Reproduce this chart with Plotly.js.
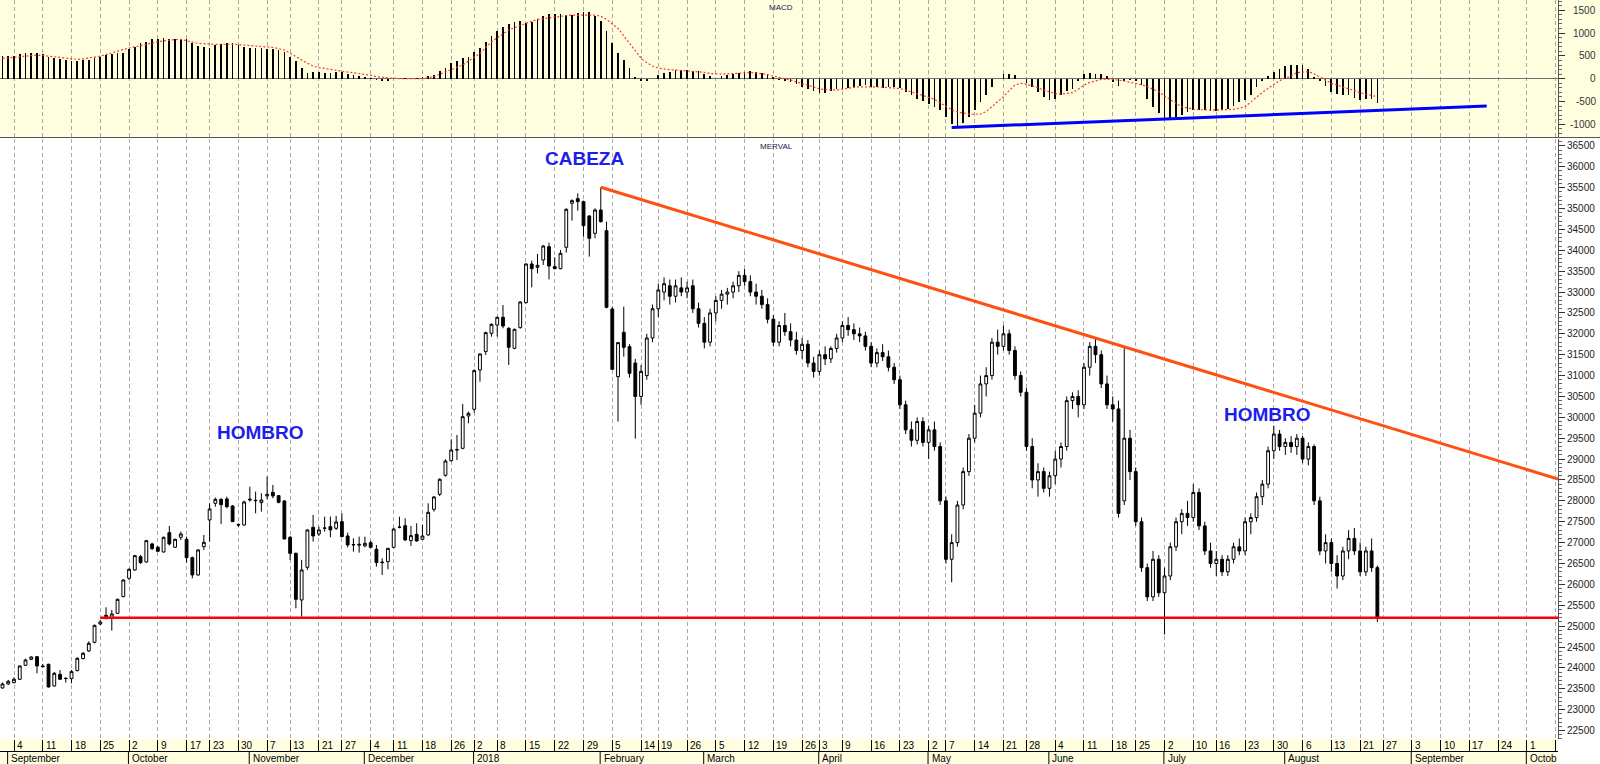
<!DOCTYPE html>
<html><head><meta charset="utf-8">
<script src="https://cdn.plot.ly/plotly-3.0.1.min.js"></script>
<style>html,body{margin:0;padding:0;background:#fff}#chart{width:1600px;height:764px}</style>
</head><body><div id="chart"></div>
<script>
// ---------- DATA ----------
const firstDay = '2017-08-31';
const lastAxisDay = '2018-10-08';
const holidays = ['2017-10-16','2017-11-06','2017-11-20','2017-12-08','2017-12-25','2018-01-01',
  '2018-02-12','2018-02-13','2018-03-29','2018-03-30','2018-04-02','2018-04-30','2018-05-01',
  '2018-05-25','2018-06-20','2018-07-09','2018-08-20'];

const openP = [23519,23615,23647,23727,24062,24205,24269,24046,24086,23567,
23846,23750,23743,23934,24221,24405,24612,25051,25227,25211,
25307,25706,26145,26345,26664,26537,26967,26888,26776,27239,
26888,27127,27079,26640,26225,26904,27542,27941,28037,28045,
27877,27430,27422,28021,28013,27957,28117,28205,28125,27997,
27127,26744,25626,26409,27367,27207,27343,27383,27343,27502,
27159,26944,26960,26920,26999,26840,26520,26544,26887,27366,
27406,27047,27199,27079,27183,27797,28156,28611,28962,29218,
29258,30033,30192,31134,31573,32012,32211,32395,32132,31653,
32148,32746,33672,33592,33768,34087,33608,33560,34071,35125,
35237,35165,34821,34406,34965,34470,32594,30974,32036,31693,
31300,30500,31000,31900,32600,33000,33150,32900,33100,33000,
33150,32600,32250,31800,32500,32800,32950,33000,33150,33400,
33250,33000,32900,32700,32350,31800,32200,32050,31850,31600,
31750,31300,31100,31500,31400,31650,31900,32200,32100,32000,
31950,31700,31300,31550,31450,31200,30900,30300,29700,29450,
29900,29400,29700,29300,28000,26600,27000,27900,28700,29500,
30100,30800,31000,31800,31700,32000,31600,31000,30600,29300,
28500,28700,28300,28600,29000,29300,30400,30500,30300,31200,
31700,31500,30800,30300,30200,28000,29500,28700,27500,26400,
25700,26600,25800,26200,26900,27500,27700,27600,28200,27400,
26800,26500,26600,26300,26600,26900,26800,27500,27600,28100,
28400,29200,29600,29300,29400,29300,29500,29000,29300,28000,
26800,27000,26500,26200,26800,27100,26800,26300,26800,26400];

const highP = [23647,23711,23775,24062,24221,24277,24280,24094,24100,23902,
23950,23775,23950,24253,24381,24636,25035,25147,25451,25387,
25658,26121,26384,26704,26704,27063,26999,26920,27143,27398,
27095,27263,27143,26664,26840,27183,27941,28077,28061,28101,
27901,27462,28005,28340,28221,28181,28580,28380,28141,28021,
27159,26760,26584,27319,27662,27383,27622,27622,27638,27702,
27239,27103,27143,27143,27047,26943,26624,26870,27358,27621,
27582,27398,27462,27422,27941,28116,28540,28994,29473,29577,
30320,30136,31150,31533,32052,32251,32411,32690,32156,32124,
32778,33688,33752,33912,34127,34183,33832,34007,35005,35221,
35364,35189,34845,35005,35508,34686,32650,31800,32650,31750,
31400,31250,32000,32700,33200,33350,33300,33300,33350,33250,
33300,32750,32400,32600,32900,33050,33100,33250,33500,33550,
33400,33200,33050,32850,32450,32300,32500,32250,32050,31900,
31850,31450,31600,31700,31700,32000,32300,32400,32250,32150,
32050,31800,31650,31750,31600,31300,31000,30400,29900,30000,
30000,29800,29900,29400,28100,27200,28000,28800,29600,30300,
31000,31200,31900,32100,32200,32100,31700,31100,30700,29500,
28900,28800,28700,29200,29400,30500,30600,30650,31300,31800,
31900,31600,31000,30500,30400,31700,29700,28800,27600,26500,
26800,26700,26400,27000,27600,27800,28000,28400,28300,27500,
27000,26800,26700,26700,27000,27100,27600,27700,28200,28500,
29300,29800,29700,29500,29550,29600,29550,29400,29350,28100,
27200,27100,26700,26900,27300,27350,27000,26900,27100,26450];

const lowP = [23503,23591,23631,23711,24046,24189,23870,24014,23530,23551,
23711,23647,23631,23918,24205,24381,24589,25027,25163,24892,
25291,25690,26105,26329,26489,26521,26824,26776,26760,26935,
26872,27063,26521,26145,26209,26824,27023,27861,27446,27821,
27494,27382,27406,27981,27702,27742,28037,28061,27941,27079,
26584,25427,25228,26345,27023,27159,27263,27127,27303,27127,
26888,26784,26760,26888,26864,26424,26225,26360,26863,27342,
27047,26919,27023,27063,27167,27741,28116,28579,28939,28978,
29234,29857,30112,30854,31493,31932,31932,32131,31253,31629,
32124,32730,33113,33448,33648,33305,33544,33544,33943,34710,
34949,34327,33848,34287,34662,32610,31134,29897,31453,30950,
29490,30300,30900,31800,32400,32800,32700,32750,32900,32850,
32500,32150,31650,31700,32300,32600,32700,32850,33000,33150,
32900,32700,32600,32250,31700,31700,31950,31700,31500,31400,
31200,30950,31000,31250,31300,31550,31800,31950,31850,31800,
31600,31200,31200,31350,31100,30800,30200,29600,29300,29350,
29300,29000,29200,27900,26500,26050,26900,27800,28600,29400,
30000,30500,30900,31500,31600,31500,30900,30500,29200,28300,
28100,28200,28100,28400,28800,29200,30200,30000,30200,31000,
31300,30700,30200,29900,27600,27900,28500,27400,26300,25600,
25600,25700,24800,26100,26800,27200,27400,27500,27300,26700,
26400,26200,26200,26200,26500,26700,26700,27200,27500,27900,
28300,29000,29200,29100,29150,29100,28900,28850,27900,26700,
26500,26300,25900,26100,26600,26700,26200,26200,26300,25100];

const closeP = [23615,23679,23727,24046,24189,24261,24046,24030,23543,23870,
23727,23745,23910,24229,24349,24589,25019,25099,25260,25291,
25642,26105,26361,26688,26521,27047,26856,26792,27127,26967,
27079,27207,26640,26225,26824,27007,27805,28037,27909,27861,
27502,27422,27973,28037,28005,28021,28157,28117,27965,27087,
26744,25642,26345,27303,27159,27303,27350,27303,27494,27143,
26944,26952,26944,26983,26888,26521,26530,26863,27326,27370,
27063,27167,27039,27159,27725,28093,28516,28954,29218,29225,
30016,30096,31118,31517,32028,32227,32395,32187,31677,32108,
32762,33672,33560,33640,34103,33624,33560,33927,34981,35189,
35165,34590,34287,34965,34686,32634,31150,31789,31677,31054,
30500,31100,31900,32600,33050,33200,32900,33150,33000,33100,
32600,32250,31800,32500,32800,32950,33000,33150,33400,33250,
33000,32900,32700,32350,31800,32200,32050,31850,31600,31750,
31300,31100,31500,31400,31650,31900,32200,32100,32000,31950,
31700,31300,31550,31450,31200,30900,30300,29700,29450,29900,
29400,29700,29300,28000,26600,27000,27900,28700,29500,30100,
30800,31000,31800,31700,32000,31600,31000,30600,29300,28500,
28700,28300,28600,29000,29300,30400,30500,30300,31200,31700,
31500,30800,30300,30200,27700,29500,28700,27500,26400,25700,
26600,25800,26200,26900,27500,27700,27600,28200,27400,26800,
26500,26600,26300,26600,26900,26800,27500,27600,28100,28400,
29200,29600,29300,29400,29300,29500,29000,29300,28000,26800,
27000,26500,26200,26800,27100,26800,26300,26800,26400,25200];

const macdHist = [500,495,495,540,555,570,555,535,470,460,
440,410,390,380,400,415,445,475,510,540,
565,570,650,700,775,805,860,865,900,870,
870,865,860,790,710,695,675,745,760,775,
775,745,690,680,665,665,650,650,630,575,
480,395,225,130,140,140,125,125,140,145,
110,75,50,35,5,-30,-45,-45,-15,0,
10,15,20,30,60,90,160,225,335,385,
445,480,590,680,810,935,1050,1140,1190,1240,
1255,1230,1235,1310,1380,1410,1430,1430,1395,1395,
1445,1470,1455,1380,1270,1055,775,570,410,235,
45,-45,-60,0,90,115,145,185,185,185,
170,170,100,60,0,60,75,100,130,145,
160,145,130,100,45,-30,-60,-65,-115,-175,
-220,-265,-305,-320,-265,-235,-235,-205,-190,-160,
-145,-190,-190,-205,-190,-190,-205,-290,-360,-455,
-495,-555,-615,-675,-835,-995,-1055,-960,-835,-685,
-505,-360,-190,-15,100,100,75,0,-90,-190,
-290,-395,-470,-440,-365,-280,-220,-60,100,115,
100,100,60,-75,-160,-60,-30,-60,-130,-440,
-615,-760,-870,-870,-835,-805,-730,-690,-685,-685,
-700,-700,-685,-660,-600,-510,-470,-360,-175,-60,
60,145,205,280,290,290,300,205,45,-60,
-160,-290,-335,-350,-365,-425,-470,-455,-455,-540];

const macdSignal = [446,460,475,490,505,515,519,510,495,475,
455,440,430,424,435,450,468,495,530,570,
605,640,670,700,730,760,790,810,830,848,
858,862,840,805,775,765,758,753,756,760,
755,748,740,731,722,712,702,685,660,629,
560,480,409,340,278,245,222,205,183,161,
145,130,115,102,75,44,30,15,7,4,
2,0,0,0,20,44,95,154,200,250,
300,385,470,556,680,811,900,985,1067,1120,
1170,1213,1260,1300,1320,1340,1360,1372,1384,1396,
1396,1396,1396,1396,1370,1300,1200,1100,940,780,
620,450,350,280,230,210,200,190,180,175,
170,160,140,115,100,100,108,117,125,130,
132,130,115,90,58,30,5,-30,-70,-110,
-150,-190,-220,-240,-250,-245,-230,-205,-190,-180,
-175,-175,-180,-185,-190,-200,-215,-250,-290,-330,
-365,-400,-450,-530,-610,-680,-730,-760,-775,-780,
-775,-720,-615,-510,-395,-260,-140,-100,-120,-160,
-200,-235,-290,-330,-336,-325,-307,-230,-140,-80,
-40,-15,-10,-15,-30,-50,-73,-100,-135,-175,
-225,-285,-380,-468,-540,-614,-645,-665,-680,-685,
-688,-688,-685,-678,-670,-645,-614,-510,-395,-300,
-212,-130,-44,10,58,132,145,153,110,44,
-30,-102,-140,-175,-212,-260,-307,-335,-358,-395];

const monthLabels = ['September','October','November','December','2018','February','March',
  'April','May','June','July','August','September','October'];
const macdTickVals = [1500,1000,500,0,-500,-1000];
const macdTickText = ['1500','1000','500','0','-500','-1000'];

// drawn trend lines (trading-day index, value)
const necklineX = [17, 270.4];      const necklineY = [25200, 25200];
const trendX = [104, 270.4];        const trendY = [35509, 28523];
const macdTrendX = [165, 258];      const macdTrendY = [-1070, -600];

const labelsText = ['HOMBRO','CABEZA','HOMBRO'];
const labelsX = [44.8, 101.2, 219.9];
const labelsY = [29632, 36210, 30073];

// ---------- TRADING CALENDAR ----------
const tradingDays = [];
for (let d = new Date(firstDay+'T00:00:00Z'); d <= new Date(lastAxisDay+'T00:00:00Z'); d.setUTCDate(d.getUTCDate()+1)) {
  const wd = d.getUTCDay();
  if (wd === 0 || wd === 6) continue;
  const s = d.toISOString().slice(0,10);
  if (holidays.includes(s)) continue;
  tradingDays.push(s);
}
function weekKey(s){ const d=new Date(s+'T00:00:00Z'); const wd=d.getUTCDay(); d.setUTCDate(d.getUTCDate()-(wd-1)); return d.toISOString().slice(0,10); }
const weekIdx = [], weekText = [], monthIdx = [];
for (let i=1;i<tradingDays.length;i++){
  if (weekKey(tradingDays[i]) !== weekKey(tradingDays[i-1])) { weekIdx.push(i); weekText.push(String(+tradingDays[i].slice(8,10))); }
  if (tradingDays[i].slice(5,7) !== tradingDays[i-1].slice(5,7)) monthIdx.push(i);
}
const idx = openP.map((_,i)=>i);

// ---------- GEOMETRY ----------
const W=1600, H=764, MR=42, MB=25;
const plotW = W - MR, plotH = H - MB;
const py = p => (plotH - p)/plotH;
const xRange = [-0.435, 270.4];
const xp = i => (i - xRange[0])/(xRange[1]-xRange[0]);
const YEL = '#FFFFE0';
const gridCol = '#a8a8a8';
const fontSans = 'Liberation Sans, Arial, sans-serif';

const traces = [
  {type:'candlestick', x:idx, open:openP, high:highP, low:lowP, close:closeP, xaxis:'x', yaxis:'y',
   increasing:{line:{color:'#000',width:1}, fillcolor:'#ffffff'},
   decreasing:{line:{color:'#000',width:1}, fillcolor:'#000000'},
   whiskerwidth:0, hoverinfo:'skip'},
  {type:'scatter', mode:'lines', x:necklineX, y:necklineY, xaxis:'x', yaxis:'y', line:{color:'#ff0000', width:2.6}, hoverinfo:'skip'},
  {type:'scatter', mode:'lines', x:trendX, y:trendY, xaxis:'x', yaxis:'y', line:{color:'rgb(255,80,20)', width:3}, hoverinfo:'skip'},
  {type:'bar', x:idx, y:macdHist, xaxis:'x2', yaxis:'y2', width:0.3, marker:{color:'#000', line:{width:0}}, hoverinfo:'skip'},
  {type:'scatter', mode:'lines', x:idx, y:macdSignal, xaxis:'x2', yaxis:'y2', line:{color:'rgb(255,50,50)', width:1.2, dash:'2px,2px'}, hoverinfo:'skip'},
  {type:'scatter', mode:'lines', x:macdTrendX, y:macdTrendY, xaxis:'x2', yaxis:'y2', line:{color:'#0000ff', width:3}, hoverinfo:'skip'}
];

const annotations = [];
weekIdx.forEach((i,k)=>{
  if (i > 269) return;
  annotations.push({x:i, xref:'x', y:py(745.5), yref:'paper', text:weekText[k], showarrow:false, xanchor:'left', yanchor:'middle', xshift:1,
    font:{family:fontSans, size:10, color:'#000'}});
});
monthIdx.forEach((i,k)=>{
  const a = {x:i, xref:'x', y:py(758.5), yref:'paper', text:monthLabels[k], showarrow:false, xanchor:'left', yanchor:'middle', xshift:1,
    font:{family:fontSans, size:10, color:'#000'}, align:'left'};
  if (k === monthLabels.length-1) { a.width = 27; }
  annotations.push(a);
});
macdTickVals.forEach((v,k)=>{
  annotations.push({x:1598/plotW, xref:'paper', y:v, yref:'y2', text:macdTickText[k], showarrow:false, xanchor:'right', yanchor:'middle',
    font:{family:fontSans, size:10, color:'#333'}});
});
annotations.push({x:781/plotW, xref:'paper', y:py(8), yref:'paper', text:'MACD', showarrow:false, xanchor:'center', yanchor:'middle', font:{family:fontSans, size:8, color:'#202050'}});
annotations.push({x:776/plotW, xref:'paper', y:py(146), yref:'paper', text:'MERVAL', showarrow:false, xanchor:'center', yanchor:'middle', font:{family:fontSans, size:8, color:'#202050'}});
labelsText.forEach((t,k)=>{
  annotations.push({x:labelsX[k], xref:'x', y:labelsY[k], yref:'y', text:'<b>'+t+'</b>', showarrow:false, xanchor:'center', yanchor:'middle',
    font:{family:fontSans, size:19, color:'rgb(30,30,235)'}});
});

const shapes = [
  {type:'rect', xref:'paper', yref:'paper', x0:0, x1:W/plotW, y0:py(137.5), y1:1, fillcolor:YEL, line:{width:0}, layer:'below'},
  {type:'rect', xref:'paper', yref:'paper', x0:0, x1:1, y0:py(764), y1:0, fillcolor:YEL, line:{width:0}, layer:'below'},
  {type:'line', xref:'paper', yref:'paper', x0:0, x1:W/plotW, y0:py(137.5), y1:py(137.5), line:{color:'#555', width:1}},
  {type:'line', xref:'paper', yref:'paper', x0:0, x1:1, y0:py(751.5), y1:py(751.5), line:{color:'#000', width:1}}
];
monthIdx.forEach(i=>{
  shapes.push({type:'line', xref:'paper', yref:'paper', x0:xp(i)-0.0004, x1:xp(i)-0.0004, y0:py(751.5), y1:py(764), line:{color:'#000', width:1}});
});

const layout = {
  width:W, height:H, margin:{l:0, r:MR, t:0, b:MB, pad:0},
  paper_bgcolor:'#ffffff', plot_bgcolor:'#ffffff', showlegend:false, bargap:0,
  xaxis:{domain:[0,1], anchor:'y', range:xRange, tickmode:'array', tickvals:weekIdx, showticklabels:false,
    ticks:'outside', ticklen:12, tickcolor:'#000', tickwidth:1, showgrid:true, gridcolor:gridCol, griddash:'4px,3px', gridwidth:1,
    zeroline:false, showline:false, rangeslider:{visible:false}, fixedrange:true},
  xaxis2:{domain:[0,1], anchor:'y2', range:xRange, tickmode:'array', tickvals:weekIdx, showticklabels:false, ticks:'',
    showgrid:true, gridcolor:gridCol, griddash:'4px,3px', gridwidth:1, zeroline:false, showline:false, fixedrange:true},
  yaxis:{domain:[0, py(138.5)], range:[22297, 36677], side:'right', tickmode:'linear', tick0:22500, dtick:500, tickformat:'d',
    ticks:'outside', ticklen:6, tickcolor:'#333', showline:true, linecolor:'#555', linewidth:1, showgrid:false, zeroline:false,
    minor:{tickmode:'linear', tick0:22500, dtick:100, ticks:'outside', ticklen:3, tickcolor:'#666', showgrid:false},
    tickfont:{family:fontSans, size:10, color:'#222'}, fixedrange:true},
  yaxis2:{domain:[py(137.5), 1], range:[-1289, 1726], side:'right', anchor:'x2', tickmode:'array', tickvals:macdTickVals, showticklabels:false,
    ticks:'outside', ticklen:6, tickcolor:'#333', showline:true, linecolor:'#555', linewidth:1, showgrid:false,
    zeroline:true, zerolinecolor:'#707070', zerolinewidth:1,
    minor:{tickmode:'linear', tick0:0, dtick:100, ticks:'outside', ticklen:3, tickcolor:'#666', showgrid:false}, fixedrange:true},
  annotations:annotations, shapes:shapes
};

Plotly.newPlot('chart', traces, layout, {displayModeBar:false, staticPlot:true});
</script>
</body></html>
